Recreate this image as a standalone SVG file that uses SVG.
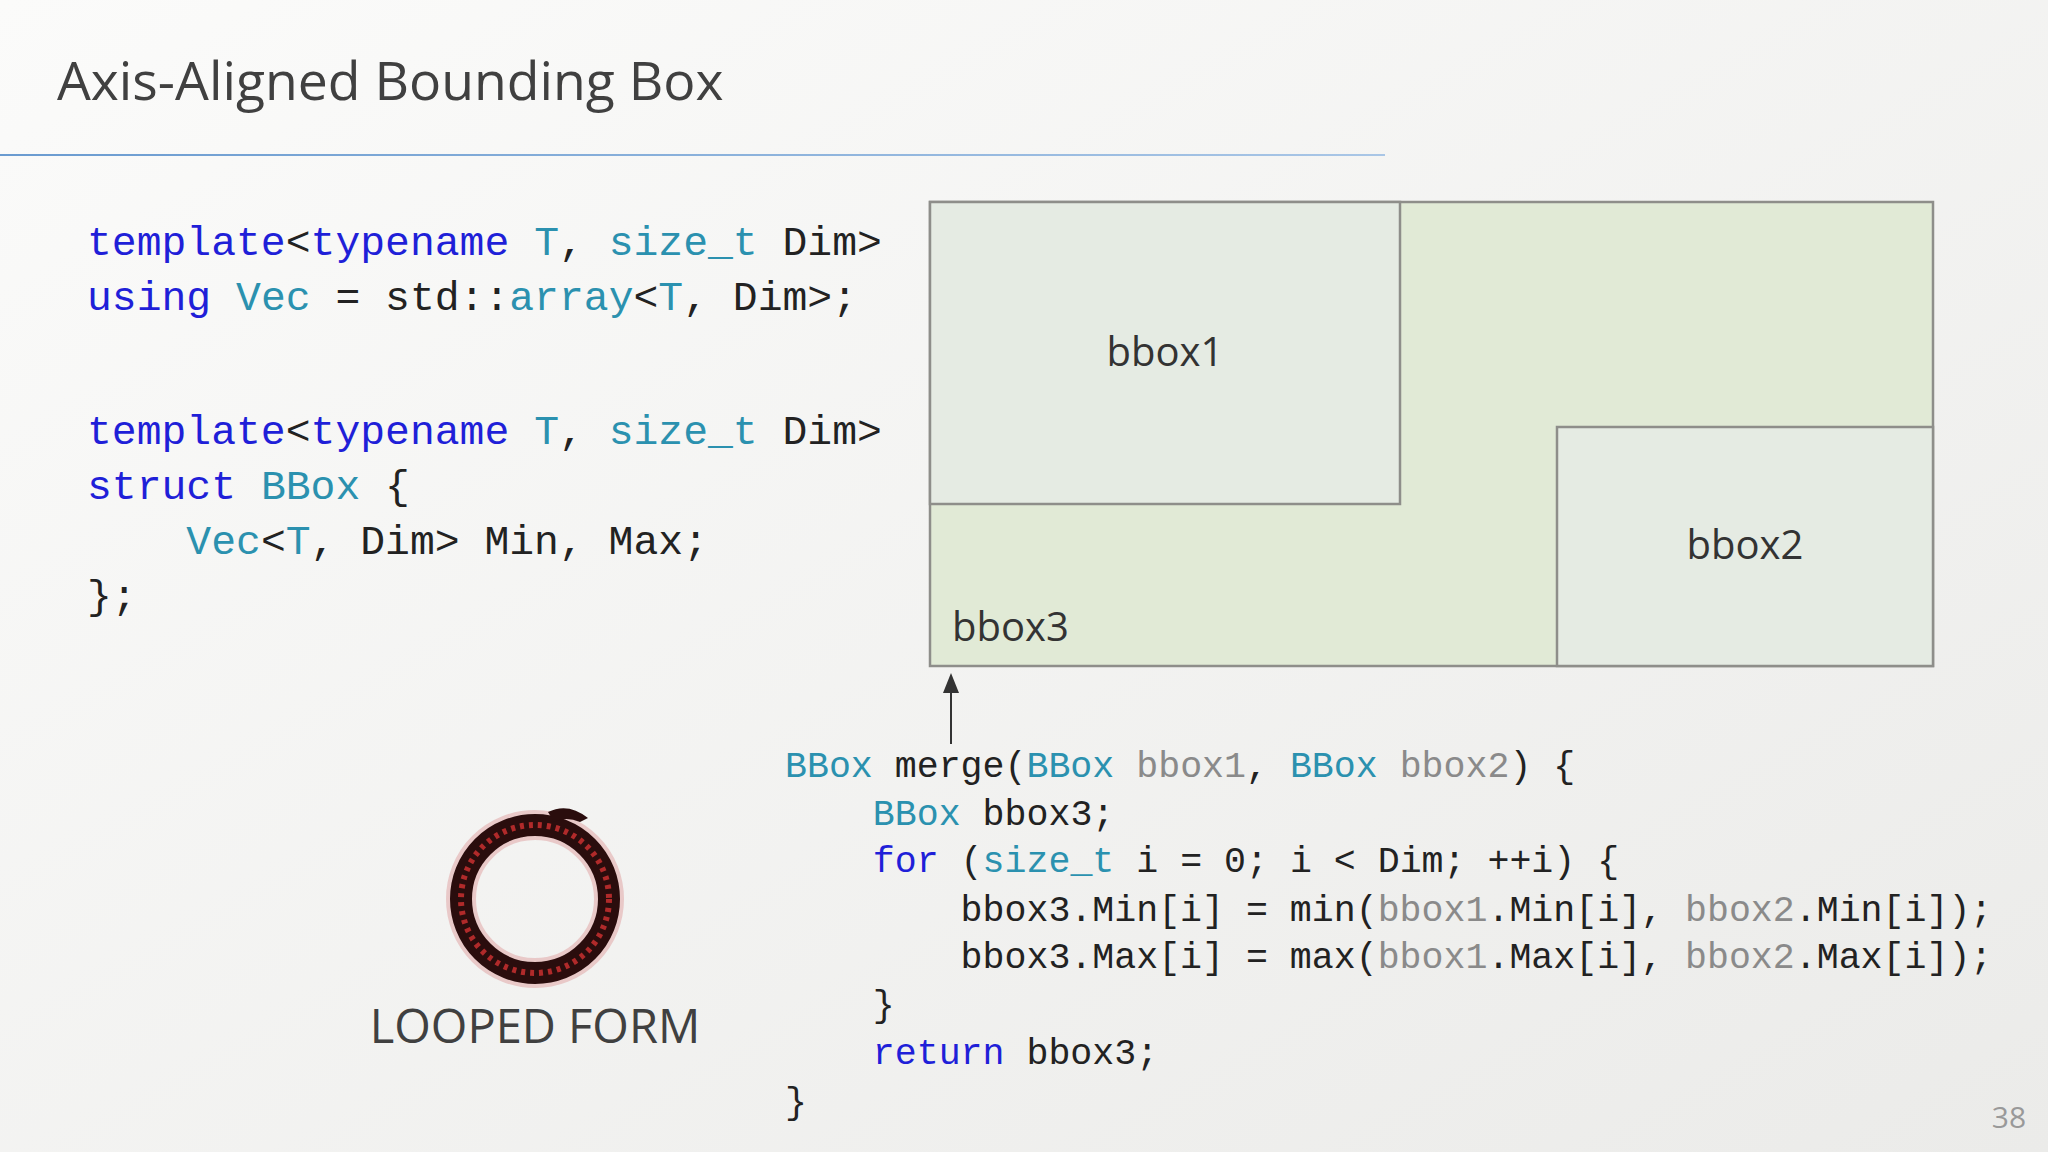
<svg xmlns="http://www.w3.org/2000/svg" width="2048" height="1152" viewBox="0 0 2048 1152">
<defs>
<linearGradient id="bg" x1="0" y1="0" x2="1" y2="1"><stop offset="0" stop-color="#fbfbfa"/><stop offset="1" stop-color="#ebebe9"/></linearGradient>
<linearGradient id="tl" x1="0" y1="0" x2="1" y2="0"><stop offset="0" stop-color="#6a9bd0"/><stop offset="1" stop-color="#a9c6e6"/></linearGradient>
<marker id="ah" markerWidth="10" markerHeight="10" refX="5" refY="5" orient="auto"><path d="M0,1 L10,5 L0,9 z" fill="#333"/></marker>
<style>
.c{font-family:"Liberation Mono",monospace;font-size:41.4px;fill:#222;white-space:pre}
.s{font-family:"Liberation Mono",monospace;font-size:36.6px;fill:#222;white-space:pre}
.k{fill:#1f1fd8}.t{fill:#2b91af}.g{fill:#8a8a8a}
.lbl{font-family:"Open Sans",sans-serif;font-size:40px;fill:#333}
.box{stroke:#8e8e8a;stroke-width:2.5}
</style>
</defs>
<rect width="2048" height="1152" fill="url(#bg)"/>
<text x="57" y="100" font-family="Open Sans, sans-serif" font-size="53.5" fill="#404040">Axis-Aligned Bounding Box</text>
<rect x="0" y="154" width="1385" height="2" fill="url(#tl)"/>
<g id="code1">
<text class="c" x="87" y="255"><tspan class="k">template</tspan>&lt;<tspan class="k">typename</tspan> <tspan class="t">T</tspan>, <tspan class="t">size_t</tspan> Dim&gt;</text>
<text class="c" x="87" y="310"><tspan class="k">using</tspan> <tspan class="t">Vec</tspan> = std::<tspan class="t">array</tspan>&lt;<tspan class="t">T</tspan>, Dim&gt;;</text>
<text class="c" x="87" y="444"><tspan class="k">template</tspan>&lt;<tspan class="k">typename</tspan> <tspan class="t">T</tspan>, <tspan class="t">size_t</tspan> Dim&gt;</text>
<text class="c" x="87" y="499"><tspan class="k">struct</tspan> <tspan class="t">BBox</tspan> {</text>
<text class="c" x="87" y="554">    <tspan class="t">Vec</tspan>&lt;<tspan class="t">T</tspan>, Dim&gt; Min, Max;</text>
<text class="c" x="87" y="609">};</text>
</g>
<g id="bbox3"><rect class="box" x="930" y="202" width="1003" height="464" fill="#e1ead6"/><text class="lbl" x="952" y="641">bbox3</text></g>
<g id="bbox1"><rect class="box" x="930" y="202" width="470" height="302" fill="#e5ebe3"/><text class="lbl" x="1165" y="366" text-anchor="middle">bbox1</text></g>
<g id="bbox2"><rect class="box" x="1557" y="427" width="376" height="239" fill="#e5ebe3"/><text class="lbl" x="1745" y="559" text-anchor="middle">bbox2</text></g>
<g id="connectors"><line x1="951" y1="744" x2="951" y2="683" stroke="#333" stroke-width="2" marker-end="url(#ah)"/></g>
<g id="code2">
<text class="s" x="785" y="777"><tspan class="t">BBox</tspan> merge(<tspan class="t">BBox</tspan> <tspan class="g">bbox1</tspan>, <tspan class="t">BBox</tspan> <tspan class="g">bbox2</tspan>) {</text>
<text class="s" x="785" y="825">    <tspan class="t">BBox</tspan> bbox3;</text>
<text class="s" x="785" y="872">    <tspan class="k">for</tspan> (<tspan class="t">size_t</tspan> i = 0; i &lt; Dim; ++i) {</text>
<text class="s" x="785" y="921">        bbox3.Min[i] = min(<tspan class="g">bbox1</tspan>.Min[i], <tspan class="g">bbox2</tspan>.Min[i]);</text>
<text class="s" x="785" y="968">        bbox3.Max[i] = max(<tspan class="g">bbox1</tspan>.Max[i], <tspan class="g">bbox2</tspan>.Max[i]);</text>
<text class="s" x="785" y="1016">    }</text>
<text class="s" x="785" y="1064">    <tspan class="k">return</tspan> bbox3;</text>
<text class="s" x="785" y="1113">}</text>
</g>
<g id="ouroboros">
<circle cx="535" cy="899" r="74" fill="none" stroke="#e0a0a0" stroke-width="30" opacity="0.5"/>
<circle cx="535" cy="899" r="74" fill="none" stroke="#2a0d0d" stroke-width="22"/>
<circle cx="535" cy="899" r="74" fill="none" stroke="#b02a2a" stroke-width="6" stroke-dasharray="4 5"/>
<path d="M548,812 q20,-10 40,6 l-8,4 q-14,-6 -26,0 z" fill="#2a0d0d"/>
<text x="535" y="1043" text-anchor="middle" font-family="Open Sans, sans-serif" font-size="47" fill="#404040">LOOPED FORM</text>
</g>
<text x="2009" y="1128" text-anchor="middle" font-family="Open Sans, sans-serif" font-size="30" fill="#999">38</text>
</svg>
